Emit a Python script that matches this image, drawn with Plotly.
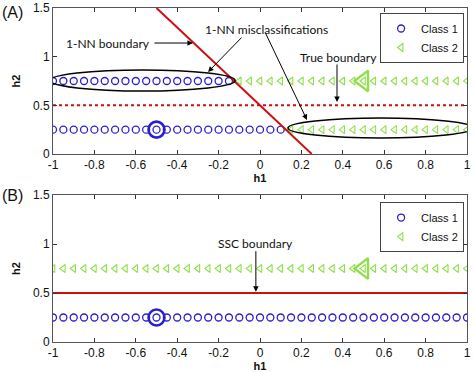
import plotly.graph_objects as go

# ---------------- data ----------------
# Panel A (1-NN classification)
a_c1_top_h1 = [-1.0, -0.95, -0.9, -0.85, -0.8, -0.75, -0.7, -0.65, -0.6, -0.55, -0.5, -0.45,
               -0.4, -0.35, -0.3, -0.25, -0.2, -0.15]
a_c2_top_h1 = [-0.1, -0.05, 0.0, 0.05, 0.1, 0.15, 0.2, 0.25, 0.3, 0.35, 0.4, 0.45, 0.5, 0.55,
               0.6, 0.65, 0.7, 0.75, 0.8, 0.85, 0.9, 0.95, 1.0]
a_c1_bot_h1 = [-1.0, -0.95, -0.9, -0.85, -0.8, -0.75, -0.7, -0.65, -0.6, -0.55, -0.5, -0.45,
               -0.4, -0.35, -0.3, -0.25, -0.2, -0.15, -0.1, -0.05, 0.0, 0.05, 0.1]
a_c2_bot_h1 = [0.15, 0.2, 0.25, 0.3, 0.35, 0.4, 0.45, 0.5, 0.55, 0.6, 0.65, 0.7, 0.75, 0.8,
               0.85, 0.9, 0.95, 1.0]
# Panel B (SSC classification)
b_all_h1 = [-1.0, -0.95, -0.9, -0.85, -0.8, -0.75, -0.7, -0.65, -0.6, -0.55, -0.5, -0.45,
            -0.4, -0.35, -0.3, -0.25, -0.2, -0.15, -0.1, -0.05, 0.0, 0.05, 0.1, 0.15, 0.2,
            0.25, 0.3, 0.35, 0.4, 0.45, 0.5, 0.55, 0.6, 0.65, 0.7, 0.75, 0.8, 0.85, 0.9,
            0.95, 1.0]
h2_top = 0.75
h2_bot = 0.25

# labelled points
lab1_h1, lab1_h2 = [-0.5], [0.25]
lab2_h1, lab2_h2 = [0.5], [0.75]

# boundaries
nn_boundary_h1 = [-0.5, 0.25]
nn_boundary_h2 = [1.5, 0.0]
true_boundary_h1 = [-1.0, 1.0]
true_boundary_h2 = [0.5, 0.5]

# ellipses around misclassified points (h1 range, h2 range)
ell1_h1 = [-1.015, -0.12]
ell1_h2 = [0.647, 0.863]
ell2_h1 = [0.135, 1.03]
ell2_h2 = [0.165, 0.37]

x_ticks = [-1, -0.8, -0.6, -0.4, -0.2, 0, 0.2, 0.4, 0.6, 0.8, 1]
x_tick_text = ["-1", "-0.8", "-0.6", "-0.4", "-0.2", "0", "0.2", "0.4", "0.6", "0.8", "1"]
y_ticks = [0, 0.5, 1, 1.5]
y_tick_text = ["0", "0.5", "1", "1.5"]

# ---------------- style ----------------
BLUE = "#2a1fd0"
GREEN = "#8ee04a"
RED = "#cc1010"
FONT = "Liberation Sans, Arial, sans-serif"
NOTE_FONT = "Lato, Open Sans, sans-serif"

fig = go.Figure()


def c1(x, y, xa, ya, show, legend, size=7, width=1.3):
    return go.Scatter(x=x, y=y, mode="markers", name="Class 1", xaxis=xa, yaxis=ya,
                      showlegend=show, legend=legend,
                      marker=dict(symbol="circle-open", size=size, color=BLUE,
                                  line=dict(width=width, color=BLUE)))


def c2(x, y, xa, ya, show, legend, size=7, width=1.1):
    return go.Scatter(x=x, y=y, mode="markers", name="Class 2", xaxis=xa, yaxis=ya,
                      showlegend=show, legend=legend,
                      marker=dict(symbol="triangle-left-open", size=size, color=GREEN,
                                  line=dict(width=width, color=GREEN)))


# Panel A
fig.add_trace(go.Scatter(x=true_boundary_h1, y=true_boundary_h2, mode="lines", xaxis="x", yaxis="y",
                         showlegend=False, line=dict(color=RED, width=2, dash="dot")))
fig.add_trace(c1(a_c1_top_h1, [h2_top] * len(a_c1_top_h1), "x", "y", True, "legend"))
fig.add_trace(c2(a_c2_top_h1, [h2_top] * len(a_c2_top_h1), "x", "y", True, "legend"))
fig.add_trace(c1(a_c1_bot_h1, [h2_bot] * len(a_c1_bot_h1), "x", "y", False, "legend"))
fig.add_trace(c2(a_c2_bot_h1, [h2_bot] * len(a_c2_bot_h1), "x", "y", False, "legend"))
fig.add_trace(c1(lab1_h1, lab1_h2, "x", "y", False, "legend", size=16, width=2.6))
fig.add_trace(c2(lab2_h1, lab2_h2, "x", "y", False, "legend", size=18, width=2.4))
fig.add_trace(go.Scatter(x=nn_boundary_h1, y=nn_boundary_h2, mode="lines", xaxis="x", yaxis="y",
                         showlegend=False, line=dict(color=RED, width=2)))

# Panel B
fig.add_trace(go.Scatter(x=true_boundary_h1, y=true_boundary_h2, mode="lines", xaxis="x2", yaxis="y2",
                         showlegend=False, line=dict(color=RED, width=2)))
fig.add_trace(c1(b_all_h1, [h2_bot] * len(b_all_h1), "x2", "y2", True, "legend2"))
fig.add_trace(c2(b_all_h1, [h2_top] * len(b_all_h1), "x2", "y2", True, "legend2"))
fig.add_trace(c1(lab1_h1, lab1_h2, "x2", "y2", False, "legend2", size=16, width=2.6))
fig.add_trace(c2(lab2_h1, lab2_h2, "x2", "y2", False, "legend2", size=18, width=2.4))

TICKFONT = dict(family=FONT, size=12, color="#111")
axis_common = dict(range=[-1, 1], tickmode="array", ticks="inside", ticklen=4, tickcolor="#333",
                   showline=True, linecolor="#555", linewidth=1, mirror="ticks", showgrid=False,
                   zeroline=False, tickfont=TICKFONT, automargin=False)
yaxis_common = dict(range=[0, 1.5], tickmode="array", ticks="inside", ticklen=4, tickcolor="#333",
                    showline=True, linecolor="#555", linewidth=1, mirror="ticks", showgrid=False,
                    zeroline=False, tickfont=TICKFONT, automargin=False)
TITLEFONT = dict(family=FONT, size=11, color="#111")

shapes = [
    dict(type="circle", xref="x", yref="y", x0=ell1_h1[0], x1=ell1_h1[1], y0=ell1_h2[0], y1=ell1_h2[1],
         line=dict(color="black", width=1.5)),
    dict(type="circle", xref="x", yref="y", x0=ell2_h1[0], x1=ell2_h1[1], y0=ell2_h2[0], y1=ell2_h2[1],
         line=dict(color="black", width=1.5)),
]

note = dict(family=NOTE_FONT, size=12, color="#111")
arrow = dict(showarrow=True, arrowhead=2, arrowsize=1.1, arrowwidth=1, arrowcolor="black",
             text="", standoff=0)

annotations = [
    dict(x=-0.732, y=1.14, xref="x", yref="y", text="1-NN boundary", showarrow=False, font=note),
    dict(x=-0.324, y=1.14, ax=-40, ay=0, xref="x", yref="y", **arrow),
    dict(x=0.03, y=1.284, xref="x", yref="y", text="1-NN misclassifications", showarrow=False, font=note),
    dict(x=-0.251, y=0.842, ax=35, ay=-36, xref="x", yref="y", **arrow),
    dict(x=0.227, y=0.349, ax=-42, ay=-88, xref="x", yref="y", **arrow),
    dict(x=0.377, y=0.99, xref="x", yref="y", text="True boundary", showarrow=False, font=note),
    dict(x=0.372, y=0.534, ax=0, ay=-39, xref="x", yref="y", **arrow),
    dict(x=-0.024, y=1.007, xref="x2", yref="y2", text="SSC boundary", showarrow=False, font=note),
    dict(x=-0.02, y=0.514, ax=0, ay=-42, xref="x2", yref="y2", **arrow),
    dict(x=-0.128, y=0.988, xref="paper", yref="paper", xanchor="left", yanchor="middle",
         text="(A)", showarrow=False, font=dict(family=FONT, size=16, color="#111")),
    dict(x=-0.128, y=0.44, xref="paper", yref="paper", xanchor="left", yanchor="middle",
         text="(B)", showarrow=False, font=dict(family=FONT, size=16, color="#111")),
]

legend_style = dict(bgcolor="white", bordercolor="#444", borderwidth=1,
                    font=dict(family=FONT, size=11, color="#111"), xanchor="right", yanchor="top",
                    tracegroupgap=0)

fig.update_layout(
    width=474, height=372,
    margin=dict(l=53, r=7, t=8, b=30),
    paper_bgcolor="white", plot_bgcolor="white",
    xaxis=dict(domain=[0, 1], anchor="y", tickvals=x_ticks, ticktext=x_tick_text,
               title=dict(text="<b>h1</b>", font=TITLEFONT, standoff=2), **axis_common),
    yaxis=dict(domain=[0.563, 1], anchor="x", tickvals=y_ticks, ticktext=y_tick_text,
               title=dict(text="<b>h2</b>", font=TITLEFONT, standoff=10), **yaxis_common),
    xaxis2=dict(domain=[0, 1], anchor="y2", tickvals=x_ticks, ticktext=x_tick_text,
                title=dict(text="<b>h1</b>", font=TITLEFONT, standoff=2), **axis_common),
    yaxis2=dict(domain=[0, 0.44], anchor="x2", tickvals=y_ticks, ticktext=y_tick_text,
                title=dict(text="<b>h2</b>", font=TITLEFONT, standoff=10), **yaxis_common),
    shapes=shapes,
    annotations=annotations,
    legend=dict(x=0.993, y=0.985, **legend_style),
    legend2=dict(x=0.993, y=0.419, **legend_style),
)

# remove the default 8px page margin so the figure fills the window exactly
fig.write_html("out.html", config={"displayModeBar": False},
               post_script="document.body.style.margin='0';document.body.style.overflow='hidden';")
